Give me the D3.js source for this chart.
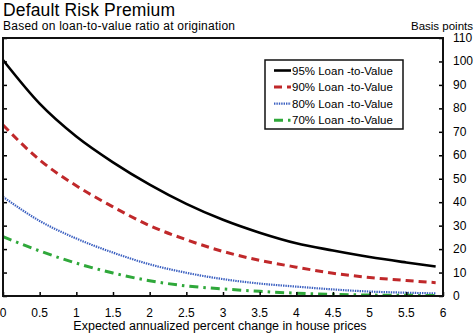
<!DOCTYPE html>
<html><head><meta charset="utf-8">
<script src="https://cdn.jsdelivr.net/npm/d3@7"></script>
<style>body{margin:0;background:#fff}svg{display:block;font-family:"Liberation Sans",Arial,sans-serif}</style>
</head><body>
<svg id="c" width="474" height="333"></svg>
<script>
const xValues = [0, 0.5, 1, 1.5, 2, 2.5, 3, 3.5, 4, 4.5, 5, 5.5, 5.9];
const ltv95 = [100.6, 82, 68, 57, 47.5, 39.3, 32.5, 27, 22.5, 19.4, 16.6, 14.3, 12.6];
const ltv90 = [72.9, 58, 47, 38, 30, 24, 19, 15.2, 12.3, 9.7, 7.9, 6.6, 5.7];
const ltv80 = [42.3, 32, 24.5, 18.5, 13.5, 9.9, 7.2, 5.3, 4.0, 2.8, 1.9, 1.4, 1.1];
const ltv70 = [25.3, 19.2, 14, 9.8, 6.5, 4.3, 3.0, 2.0, 1.2, 0.7, 0.4, 0.3, 0.2];
const seriesNames = ["95% Loan -to-Value", "90% Loan -to-Value", "80% Loan -to-Value", "70% Loan -to-Value"];
const xTicks = [0, 0.5, 1, 1.5, 2, 2.5, 3, 3.5, 4, 4.5, 5, 5.5, 6];
const xTickLabels = ["0", "0.5", "1", "1.5", "2", "2.5", "3", "3.5", "4", "4.5", "5", "5.5", "6"];
const yTicks = [0, 10, 20, 30, 40, 50, 60, 70, 80, 90, 100, 110];

const styles = [
  {color: "#000000", width: 2.6, dash: null},
  {color: "#c0282a", width: 3, dash: "8,5"},
  {color: "#3a5fc0", width: 2.2, dash: "1.4,1"},
  {color: "#2fa83a", width: 3, dash: "9,5,2.5,5"}
];
const seriesData = [ltv95, ltv90, ltv80, ltv70];

const svg = d3.select("#c");
const L = 3, R = 443, T = 38, B = 296;
const x = d3.scaleLinear().domain([0, 6]).range([L, R]);
const y = d3.scaleLinear().domain([0, 110]).range([B, T]);

// titles
svg.append("text").attr("x", 3).attr("y", 16).attr("font-size", 17.5).attr("textLength", 172).text("Default Risk Premium");
svg.append("text").attr("x", 3).attr("y", 29.5).attr("font-size", 12).attr("textLength", 232).text("Based on loan-to-value ratio at origination");
svg.append("text").attr("x", 473).attr("y", 29.5).attr("text-anchor", "end").attr("font-size", 11.5).text("Basis points");

// curves
const line = d3.line().x((d, i) => x(xValues[i])).y(d => y(d)).curve(d3.curveMonotoneX);
seriesData.forEach((s, k) => {
  svg.append("path").attr("d", line(s)).attr("fill", "none")
    .attr("stroke", styles[k].color).attr("stroke-width", styles[k].width)
    .attr("stroke-dasharray", styles[k].dash);
});

// axes (ticks inside)
const gx = svg.append("g").attr("transform", `translate(0,${B})`)
  .call(d3.axisTop(x).tickValues(xTicks).tickSize(4).tickFormat(""));
gx.select(".domain").remove();
gx.selectAll("line").attr("stroke", "#000").attr("stroke-width", 1.5);
svg.append("g").selectAll("text").data(xTicks).join("text")
  .attr("x", d => x(d)).attr("y", 317).attr("text-anchor", "middle").attr("font-size", 12)
  .text((d, i) => xTickLabels[i]);

const gyR = svg.append("g").attr("transform", `translate(${R},0)`)
  .call(d3.axisLeft(y).tickValues(yTicks).tickSize(4).tickFormat(""));
gyR.select(".domain").remove();
gyR.selectAll("line").attr("stroke", "#000").attr("stroke-width", 1.5);
const gyL = svg.append("g").attr("transform", `translate(${L},0)`)
  .call(d3.axisRight(y).tickValues(yTicks).tickSize(4).tickFormat(""));
gyL.select(".domain").remove();
gyL.selectAll("line").attr("stroke", "#000").attr("stroke-width", 1.5);
svg.append("g").selectAll("text").data(yTicks).join("text")
  .attr("x", 453).attr("y", d => y(d) + 4).attr("font-size", 12).text(d => d);

// frame
svg.append("rect").attr("x", L).attr("y", T).attr("width", R - L).attr("height", B - T)
  .attr("fill", "none").attr("stroke", "#111").attr("stroke-width", 2);

// x title
svg.append("text").attr("x", 220).attr("y", 330).attr("text-anchor", "middle").attr("font-size", 12.5)
  .text("Expected annualized percent change in house prices");

// legend
const lg = svg.append("g");
lg.append("rect").attr("x", 265).attr("y", 60).attr("width", 138).attr("height", 69)
  .attr("fill", "#fff").attr("stroke", "#111").attr("stroke-width", 1.5);
seriesNames.forEach((n, k) => {
  const yy = 70.5 + k * 16.6;
  lg.append("line").attr("x1", 274).attr("x2", 291).attr("y1", yy).attr("y2", yy)
    .attr("stroke", styles[k].color).attr("stroke-width", styles[k].width)
    .attr("stroke-dasharray", styles[k].dash);
  lg.append("text").attr("x", 292).attr("y", yy + 4).attr("font-size", 11.5).text(n);
});
</script>
</body></html>
